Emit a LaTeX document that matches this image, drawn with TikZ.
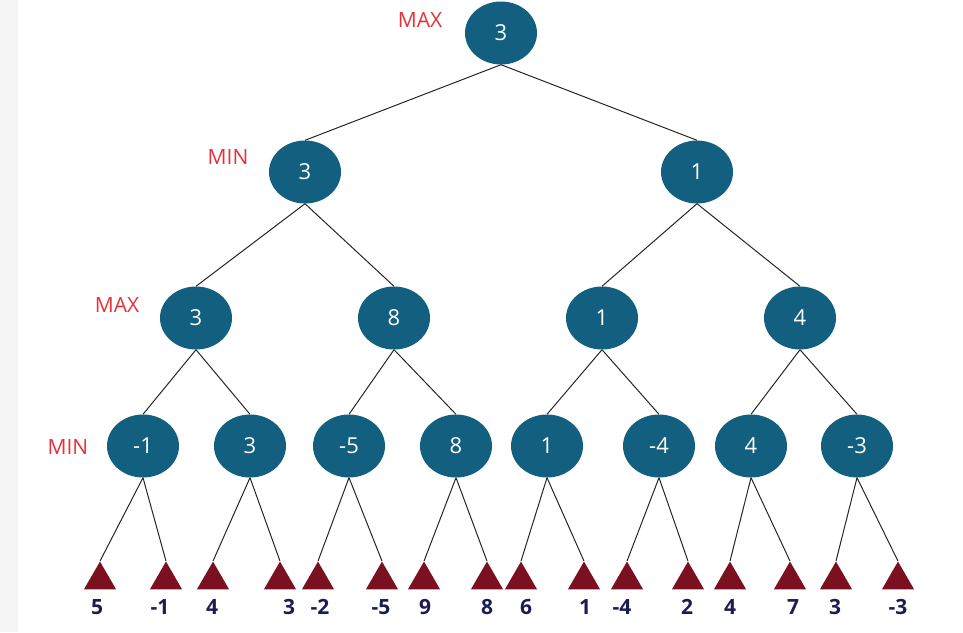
\documentclass[tikz,border=0pt]{standalone}
\usepackage{fontspec}
\setmainfont{Open Sans}
\usetikzlibrary{shapes.geometric}
\definecolor{nodeblue}{HTML}{135F7F}
\definecolor{leafred}{HTML}{7A1020}
\definecolor{lblred}{HTML}{E8303A}
\definecolor{numblue}{HTML}{1C1C55}
\begin{document}
\begin{tikzpicture}[x=1pt,y=-1pt,
  mm/.style={ellipse,fill=nodeblue,text=white,minimum width=72pt,minimum height=63pt,inner sep=0pt,font=\fontsize{22}{22}\selectfont},
  leaf/.style={regular polygon,regular polygon sides=3,fill=leafred,minimum size=37pt,inner sep=0pt},
  val/.style={text=numblue,font=\bfseries\fontsize{21}{21}\selectfont,anchor=base},
  lvl/.style={text=lblred,font=\fontsize{21}{21}\selectfont},
  edge/.style={draw=black!85,line width=1pt}]
\useasboundingbox (0,0) rectangle (963,632);
\fill[gray!8] (0,0) rectangle (18,632);
\node[mm] (r) at (501,33) {3};
\node[mm] (a) at (305,172) {3};
\node[mm] (b) at (697,172) {1};
\node[mm] (a1) at (196,318) {3};
\node[mm] (a2) at (394,318) {8};
\node[mm] (b1) at (602,318) {1};
\node[mm] (b2) at (800,318) {4};
\node[mm] (c1) at (143,446) {-1};
\node[mm] (c2) at (250,446) {3};
\node[mm] (c3) at (349,446) {-5};
\node[mm] (c4) at (456,446) {8};
\node[mm] (c5) at (547,446) {1};
\node[mm] (c6) at (659,446) {-4};
\node[mm] (c7) at (751,446) {4};
\node[mm] (c8) at (857,446) {-3};
\node[lvl] (m0) at (420,20) {MAX};
\node[lvl] (m1) at (228,157) {MIN};
\node[lvl] (m2) at (117,305) {MAX};
\node[lvl] (m3) at (68,447) {MIN};
\foreach \p/\q in {r/a,r/b,a/a1,a/a2,b/b1,b/b2,a1/c1,a1/c2,a2/c3,a2/c4,b1/c5,b1/c6,b2/c7,b2/c8}
  \draw[edge] (\p.south) -- (\q.north);
\foreach \i/\x/\p/\v/\lx in {1/100/c1/5/97,2/166/c1/-1/160,3/213/c2/4/212,4/280/c2/3/289,5/318/c3/-2/320,6/382/c3/-5/381,7/424/c4/9/425,8/487/c4/8/487,9/521/c5/6/526,10/584/c5/1/585,11/627/c6/-4/622,12/688/c6/2/687,13/730/c7/4/730,14/790/c7/7/793,15/836/c8/3/835,16/898/c8/-3/898}{
  \node[leaf] (l\i) at (\x,580) {};
  \draw[edge] (\p.south) -- (l\i.corner 1);
  \node[val] (v\i) at (\lx,614) {\v};
}
\end{tikzpicture}
\end{document}
